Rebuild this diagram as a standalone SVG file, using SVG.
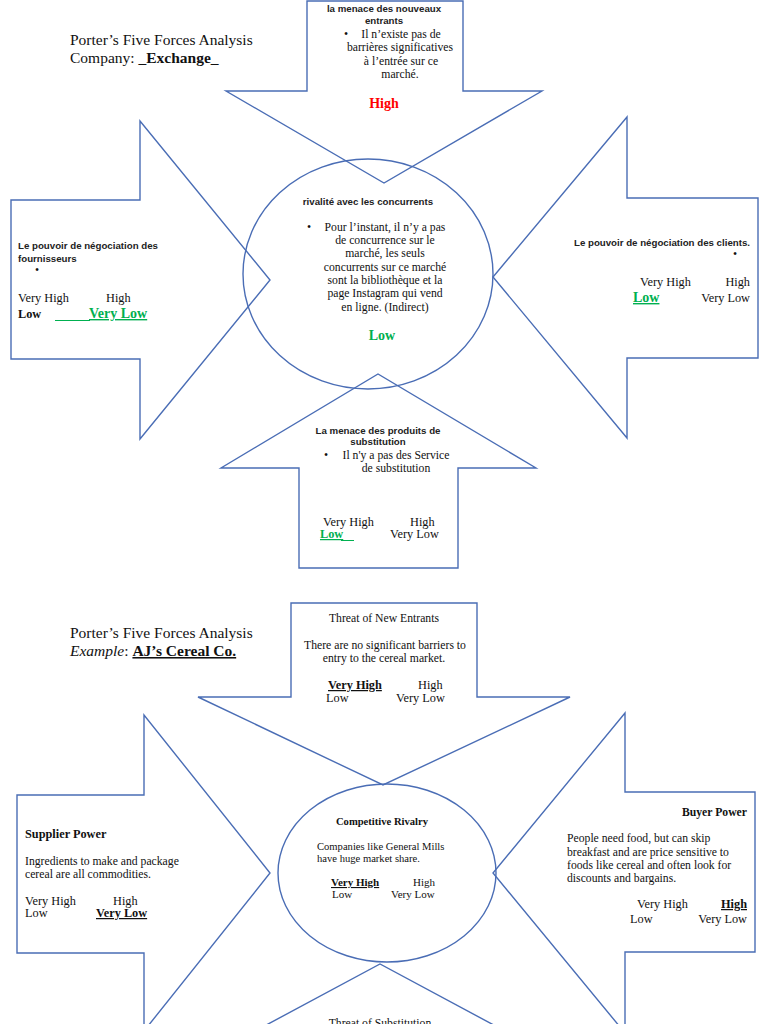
<svg xmlns="http://www.w3.org/2000/svg" width="768" height="1024" viewBox="0 0 768 1024">
<style>
.sh{fill:none;stroke:#4a6db5;stroke-width:1.4;stroke-linejoin:miter}
.t{font-family:"Liberation Serif","Times New Roman",serif;font-size:11.7px;fill:#111}
.r{font-family:"Liberation Serif","Times New Roman",serif;font-size:12.3px;fill:#111}
.a{font-family:"Liberation Sans",Arial,sans-serif;font-size:9.7px;font-weight:bold;fill:#222}
.ttl{font-family:"Liberation Serif","Times New Roman",serif;font-size:15.5px;fill:#111}
.c{font-family:"Liberation Serif","Times New Roman",serif;font-size:10.6px;fill:#111}
.b{font-weight:bold}
.m{text-anchor:middle}
.e{text-anchor:end}
.g{fill:#00b050;font-weight:bold}
.u{text-decoration:underline}
.big{font-size:14px}
</style>
<rect width="768" height="1024" fill="#fff"/>

<g id="title1">
<text class="ttl" x="70" y="45">Porter’s Five Forces Analysis</text>
<text class="ttl" x="70" y="63">Company: <tspan font-weight="bold">_Exchange_</tspan></text>
</g>

<g id="connectors">
</g>

<g id="new-entrants-fr">
<polygon class="sh" points="307,1 307,91 226,91 384,183 542,91 463,91 463,1"/>
<text class="a m" x="384" y="12">la menace des nouveaux</text>
<text class="a m" x="384" y="24">entrants</text>
<text class="t" x="344" y="38">•</text>
<text class="t m" x="401" y="38">Il n’existe pas de</text>
<text class="t m" x="400" y="51">barrières significatives</text>
<text class="t m" x="401" y="65">à l’entrée sur ce</text>
<text class="t m" x="400" y="78">marché.</text>
<text class="r b big m" x="384" y="108" style="fill:#ff0000">High</text>
</g>

<g id="suppliers-fr">
<polygon class="sh" points="11,200 140,200 140,121 270,280 140,439 140,359 11,359"/>
<text class="a" x="18" y="249">Le pouvoir de négociation des</text>
<text class="a" x="18" y="262">fournisseurs</text>
<text class="t" x="35" y="274">•</text>
<text class="r" x="18" y="302">Very High</text>
<text class="r" x="106" y="302">High</text>
<text class="r b" x="18" y="318">Low</text>
<line x1="55" y1="320.5" x2="90" y2="320.5" stroke="#00b050" stroke-width="1.2"/>
<text class="r g u big" x="89" y="318">Very Low</text>
</g>

<g id="rivalry-fr">
<ellipse class="sh" cx="368" cy="274" rx="125" ry="115"/>
<text class="a m" x="368" y="205">rivalité avec les concurrents</text>
<text class="t" x="307" y="231">•</text>
<text class="t m" x="385" y="231">Pour l’instant, il n’y a pas</text>
<text class="t m" x="385" y="244">de concurrence sur le</text>
<text class="t m" x="385" y="257">marché, les seuls</text>
<text class="t m" x="385" y="271">concurrents sur ce marché</text>
<text class="t m" x="385" y="284">sont la bibliothèque et la</text>
<text class="t m" x="385" y="297">page Instagram qui vend</text>
<text class="t m" x="385" y="311">en ligne. (Indirect)</text>
<text class="r g big m" x="382" y="340">Low</text>
</g>

<g id="clients-fr">
<polygon class="sh" points="758,198 627,198 627,117 493,277 627,438 627,358 758,358"/>
<text class="a e" x="750" y="246">Le pouvoir de négociation des clients.</text>
<text class="t" x="733" y="258">•</text>
<text class="r" x="640" y="286">Very High</text>
<text class="r e" x="750" y="286">High</text>
<text class="r g u big" x="633" y="302">Low</text>
<text class="r e" x="750" y="302">Very Low</text>
</g>

<g id="substitutes-fr">
<polygon class="sh" points="299,568 299,468 221,468 378,374 536,468 458,468 458,568"/>
<text class="a m" x="378" y="434">La menace des produits de</text>
<text class="a m" x="378" y="445">substitution</text>
<text class="t" x="324" y="459">•</text>
<text class="t m" x="396" y="459">Il n'y a pas des Service</text>
<text class="t m" x="396" y="472">de substitution</text>
<text class="r" x="323" y="526">Very High</text>
<text class="r" x="410" y="526">High</text>
<text class="r g u" x="320" y="538">Low</text>
<line x1="341" y1="540.5" x2="354" y2="540.5" stroke="#00b050" stroke-width="1"/>
<text class="r" x="390" y="538">Very Low</text>
</g>

<g id="title2">
<text class="ttl" x="70" y="638">Porter’s Five Forces Analysis</text>
<text class="ttl" x="70" y="656"><tspan font-style="italic">Example</tspan>: <tspan font-weight="bold" text-decoration="underline">AJ’s Cereal Co.</tspan></text>
</g>

<g id="new-entrants">
<polygon class="sh" points="291,603 291,697 198,697 383,785 570,697 477,697 477,603"/>
<text class="t m" x="384" y="622">Threat of New Entrants</text>
<text class="t m" x="385" y="649">There are no significant barriers to</text>
<text class="t m" x="384" y="662">entry to the cereal market.</text>
<text class="r b u" x="328" y="689">Very High</text>
<text class="r" x="418" y="689">High</text>
<text class="r" x="326" y="702">Low</text>
<text class="r" x="396" y="702">Very Low</text>
</g>

<g id="supplier-power">
<polygon class="sh" points="17,795 144,795 144,715 270,873 144,1031 144,953 17,953"/>
<text class="r b" x="25" y="838">Supplier Power</text>
<text class="t" x="25" y="865">Ingredients to make and package</text>
<text class="t" x="25" y="878">cereal are all commodities.</text>
<text class="r" x="25" y="905">Very High</text>
<text class="r" x="113" y="905">High</text>
<text class="r" x="25" y="917">Low</text>
<text class="r b u" x="96" y="917">Very Low</text>
</g>

<g id="rivalry">
<ellipse class="sh" cx="387" cy="873" rx="109" ry="89"/>
<text class="c b m" x="382" y="825">Competitive Rivalry</text>
<text class="c" x="317" y="850">Companies like General Mills</text>
<text class="c" x="317" y="862">have huge market share.</text>
<text class="c b u" x="331" y="886" style="font-size:11px">Very High</text>
<text class="c" x="413" y="886" style="font-size:11px">High</text>
<text class="c" x="332" y="898" style="font-size:11px">Low</text>
<text class="c" x="391" y="898" style="font-size:11px">Very Low</text>
</g>

<g id="buyer-power">
<polygon class="sh" points="755,792 625,792 625,713 493,873 625,1033 625,952 755,952"/>
<text class="t b e" x="747" y="816">Buyer Power</text>
<text class="t" x="567" y="842">People need food, but can skip</text>
<text class="t" x="567" y="856">breakfast and are price sensitive to</text>
<text class="t" x="567" y="869">foods like cereal and often look for</text>
<text class="t" x="567" y="882">discounts and bargains.</text>
<text class="r" x="637" y="908">Very High</text>
<text class="r b u e" x="747" y="908">High</text>
<text class="r" x="630" y="923">Low</text>
<text class="r e" x="747" y="923">Very Low</text>
</g>

<g id="substitution">
<polyline class="sh" points="201,1060 380,964 559,1060"/>
<text class="t m" x="380" y="1027">Threat of Substitution</text>
</g>
</svg>
